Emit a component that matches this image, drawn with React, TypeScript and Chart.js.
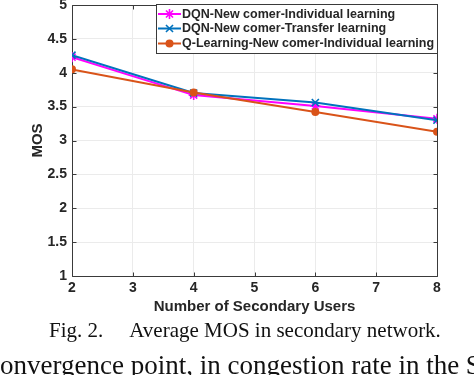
import React, { useEffect, useRef } from 'react';
import { Chart, registerables } from 'chart.js';

Chart.register(...registerables);

// ---- data ----
const xValues = [2, 4, 6, 8];
const dqnIndividual = [4.23, 3.67, 3.51, 3.32];
const dqnTransfer = [4.26, 3.7, 3.56, 3.3];
const qLearning = [4.05, 3.71, 3.42, 3.13];
const seriesLabels = [
  'DQN-New comer-Individual learning',
  'DQN-New comer-Transfer learning',
  'Q-Learning-New comer-Individual learning',
];
const xTickValues = [2, 3, 4, 5, 6, 7, 8];
const yTickValues = [1, 1.5, 2, 2.5, 3, 3.5, 4, 4.5, 5];
const xTitle = 'Number of Secondary Users';
const yTitle = 'MOS';
const captionLabel = 'Fig. 2.';
const captionText = 'Average MOS in secondary network.';
const bodyText = 'onvergence point, in congestion rate in the S';

const colors = ['#ff00ff', '#0072bd', '#d95319'];
const markers = ['star', 'crossRot', 'circle'];

const SANS = '"Liberation Sans", Arial, Helvetica, sans-serif';
const TEXT = '#262626';

function drawMarker(ctx: CanvasRenderingContext2D, style: string, x: number, y: number, r: number, color: string) {
  ctx.save();
  ctx.strokeStyle = color;
  ctx.fillStyle = color;
  ctx.lineWidth = 1.6;
  ctx.beginPath();
  if (style === 'circle') {
    ctx.arc(x, y, r, 0, Math.PI * 2);
    ctx.fill();
  } else {
    const d = r * Math.SQRT1_2;
    ctx.moveTo(x - d, y - d); ctx.lineTo(x + d, y + d);
    ctx.moveTo(x - d, y + d); ctx.lineTo(x + d, y - d);
    if (style === 'star') {
      ctx.moveTo(x - r, y); ctx.lineTo(x + r, y);
      ctx.moveTo(x, y - r); ctx.lineTo(x, y + r);
    }
    ctx.stroke();
  }
  ctx.restore();
}

const boxPlugin = {
  id: 'matlabBox',
  beforeDatasetsDraw(chart: any) {
    const { ctx, chartArea } = chart;
    const { left, right, top, bottom } = chartArea;
    const xs = chart.scales.x;
    const ys = chart.scales.y;
    ctx.save();
    ctx.strokeStyle = '#3a3a3a';
    ctx.lineWidth = 1;
    ctx.beginPath();
    const L = Math.round(left) + 0.5, R = Math.round(right) + 0.5;
    const T = Math.round(top) + 0.5, B = Math.round(bottom) + 0.5;
    ctx.rect(L, T, R - L, B - T);
    const tl = 4;
    xTickValues.forEach((v) => {
      const px = Math.round(xs.getPixelForValue(v)) + 0.5;
      ctx.moveTo(px, B); ctx.lineTo(px, B - tl);
      ctx.moveTo(px, T); ctx.lineTo(px, T + tl);
    });
    yTickValues.forEach((v) => {
      const py = Math.round(ys.getPixelForValue(v)) + 0.5;
      ctx.moveTo(L, py); ctx.lineTo(L + tl, py);
      ctx.moveTo(R, py); ctx.lineTo(R - tl, py);
    });
    ctx.stroke();
    ctx.restore();
  },
  afterDatasetsDraw(chart: any) {
    const { ctx, chartArea } = chart;
    const boxLeft = 156;
    const boxTop = chartArea.top - 1;
    const boxRight = chartArea.right;
    const boxBottom = boxTop + 49;
    ctx.save();
    ctx.fillStyle = '#ffffff';
    ctx.fillRect(boxLeft, boxTop, boxRight - boxLeft, boxBottom - boxTop);
    ctx.strokeStyle = '#3a3a3a';
    ctx.lineWidth = 1;
    ctx.strokeRect(boxLeft + 0.5, Math.round(boxTop) + 0.5, boxRight - boxLeft, boxBottom - boxTop);
    ctx.font = `bold 12.5px ${SANS}`;
    ctx.textBaseline = 'middle';
    ctx.textAlign = 'left';
    const rowY = [boxTop + 10, boxTop + 24.5, boxTop + 39.5];
    seriesLabels.forEach((label, i) => {
      const y = rowY[i];
      ctx.strokeStyle = colors[i];
      ctx.lineWidth = 2;
      ctx.beginPath();
      ctx.moveTo(boxLeft + 2, y);
      ctx.lineTo(boxLeft + 25, y);
      ctx.stroke();
      drawMarker(ctx, markers[i], boxLeft + 13.5, y, i === 2 ? 4 : 5, colors[i]);
      ctx.fillStyle = TEXT;
      ctx.fillText(label, boxLeft + 26, y + 0.5);
    });
    ctx.restore();
  },
};

function ChartCanvas() {
  const ref = useRef<HTMLCanvasElement | null>(null);
  useEffect(() => {
    if (!ref.current) return;
    const series = [dqnIndividual, dqnTransfer, qLearning];
    const chart = new Chart(ref.current, {
      type: 'line',
      data: {
        datasets: series.map((vals, i) => ({
          label: seriesLabels[i],
          data: vals.map((y, k) => ({ x: xValues[k], y })),
          borderColor: colors[i],
          backgroundColor: colors[i],
          borderWidth: 2,
          pointStyle: markers[i] as any,
          pointRadius: i === 2 ? 4 : 5,
          pointBorderWidth: i === 2 ? 0 : 1.6,
          pointBackgroundColor: colors[i],
          pointBorderColor: colors[i],
          tension: 0,
          order: 2 - i,
        })),
      },
      options: {
        animation: false,
        responsive: false,
        devicePixelRatio: 1,
        layout: { padding: { left: 0, right: 37, top: 25, bottom: 0 } },
        plugins: { legend: { display: false }, tooltip: { enabled: false } },
        scales: {
          x: {
            type: 'linear',
            min: 2,
            max: 8,
            afterBuildTicks: (s: any) => { s.ticks = xTickValues.map((v) => ({ value: v })); },
            afterFit: (s: any) => { s.height = 44; },
            ticks: {
              padding: 4,
              color: TEXT,
              font: { family: SANS, size: 14, weight: 'bold' },
              callback: (v: any) => String(v),
            },
            grid: { color: '#ebebeb', drawTicks: false },
            border: { display: false },
            title: {
              display: true,
              text: xTitle,
              color: TEXT,
              font: { family: SANS, size: 15, weight: 'bold' },
              padding: { top: 0, bottom: 4 },
            },
          },
          y: {
            type: 'linear',
            min: 1,
            max: 5,
            afterBuildTicks: (s: any) => { s.ticks = yTickValues.map((v) => ({ value: v })); },
            afterFit: (s: any) => { s.width = 72; },
            ticks: {
              padding: 5,
              color: TEXT,
              font: { family: SANS, size: 14, weight: 'bold' },
              callback: (v: any) => String(v),
            },
            grid: { color: '#ebebeb', drawTicks: false },
            border: { display: false },
            title: {
              display: true,
              text: yTitle,
              color: TEXT,
              font: { family: SANS, size: 15, weight: 'bold' },
              padding: { top: 29, bottom: 0 },
            },
          },
        },
      },
      plugins: [boxPlugin],
    } as any);
    return () => chart.destroy();
  }, []);
  return (
    <canvas
      ref={ref}
      width={474}
      height={340}
      style={{ position: 'absolute', left: 0, top: -20, width: 474, height: 340 }}
    />
  );
}

export default function App() {
  return (
    <div
      style={{
        position: 'fixed',
        left: 0,
        top: 0,
        width: 474,
        height: 375,
        overflow: 'hidden',
        background: '#ffffff',
      }}
    >
      <ChartCanvas />
      <div
        style={{
          position: 'absolute',
          left: 49,
          top: 320,
          fontFamily: '"Liberation Serif", "Times New Roman", serif',
          fontSize: 21,
          lineHeight: '21px',
          whiteSpace: 'pre',
          color: '#111',
        }}
      >
        <span>{captionLabel}</span>
        <span style={{ marginLeft: 26 }}>{captionText}</span>
      </div>
      <div
        style={{
          position: 'absolute',
          left: 0,
          top: 352,
          fontFamily: '"Liberation Serif", "Times New Roman", serif',
          fontSize: 27,
          lineHeight: '27px',
          whiteSpace: 'pre',
          color: '#111',
        }}
      >
        {bodyText}
      </div>
    </div>
  );
}
